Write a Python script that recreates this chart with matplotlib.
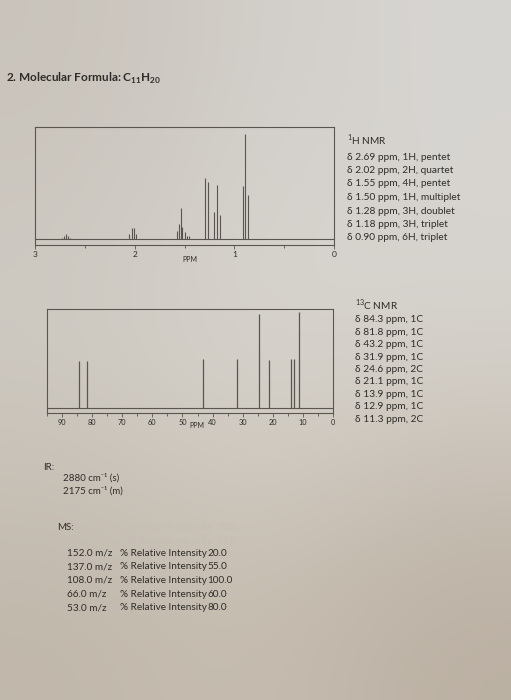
import numpy as np
import matplotlib.pyplot as plt
from matplotlib.ticker import MultipleLocator

plt.rcParams['font.family'] = ['Lato', 'DejaVu Sans']
plt.rcParams['mathtext.fontset'] = 'custom'
plt.rcParams['mathtext.rm'] = 'Lato'

# 1H NMR spectrum, individual lines (ppm, relative height)
h_line_ppm = [2.73, 2.71, 2.69, 2.67, 2.65,
              2.055, 2.03, 2.01, 1.985,
              1.575, 1.557, 1.54, 1.524, 1.50, 1.473, 1.45,
              1.296, 1.268,
              1.203, 1.178, 1.144,
              0.918, 0.897, 0.865]
h_line_int = [0.01, 0.025, 0.04, 0.025, 0.01,
              0.04, 0.095, 0.095, 0.04,
              0.07, 0.13, 0.28, 0.11, 0.06, 0.03, 0.03,
              0.54, 0.51,
              0.24, 0.48, 0.21,
              0.47, 0.94, 0.39]

# 1H NMR table
h_shift = [2.69, 2.02, 1.55, 1.50, 1.28, 1.18, 0.90]
h_count = [1, 2, 4, 1, 3, 3, 6]
h_mult = ['pentet', 'quartet', 'pentet', 'multiplet', 'doublet', 'triplet', 'triplet']

# 13C NMR
c_shift = [84.3, 81.8, 43.2, 31.9, 24.6, 21.1, 13.9, 12.9, 11.3]
c_count = [1, 1, 1, 1, 2, 1, 1, 1, 2]
c_height = [0.47, 0.47, 0.49, 0.50, 0.95, 0.48, 0.49, 0.49, 0.97]

# IR
ir_wavenumber = [2880, 2175]
ir_strength = ['s', 'm']

# MS
ms_mz = [152.0, 137.0, 108.0, 66.0, 53.0]
ms_intensity = [20.0, 55.0, 100.0, 60.0, 80.0]

W, H = 511, 700
ink = '#2f2c29'
line_col = '#5a5550'

fig = plt.figure(figsize=(W / 100, H / 100), dpi=100)

# paper background (photo shading)
bg = fig.add_axes([0, 0, 1, 1])
paper = np.array([
    [[201, 195, 187], [210, 206, 201], [215, 213, 210]],
    [[208, 204, 197], [219, 216, 210], [216, 212, 206]],
    [[192, 183, 170], [199, 190, 177], [186, 175, 161]],
]) / 255.0
bg.imshow(paper, extent=[0, W, H, 0], interpolation='bicubic', aspect='auto', zorder=0)
bg.set_xlim(0, W)
bg.set_ylim(H, 0)
bg.axis('off')


def px_axes(x0, y0, x1, y1):
    return fig.add_axes([x0 / W, 1 - y1 / H, (x1 - x0) / W, (y1 - y0) / H])


def style_spectrum(ax, lsize):
    ax.set_facecolor('none')
    for s in ax.spines.values():
        s.set_color(line_col)
        s.set_linewidth(0.8)
    ax.set_yticks([])
    ax.tick_params(axis='x', which='both', direction='out', colors=line_col,
                   labelcolor=ink, labelsize=lsize, pad=1.5, width=0.6)
    ax.tick_params(axis='x', which='major', length=3)
    ax.tick_params(axis='x', which='minor', length=2)
    ax.axhline(0, color=line_col, lw=0.8)


# 1H spectrum
ax1 = px_axes(35, 127, 334, 245)
style_spectrum(ax1, 6)
ax1.vlines(h_line_ppm, 0, h_line_int, color=line_col, lw=0.8)
ax1.set_xlim(3, 0)
ax1.set_ylim(-0.054, 1.0)
ax1.xaxis.set_major_locator(MultipleLocator(1))
ax1.xaxis.set_minor_locator(MultipleLocator(0.5))
ax1.set_xticklabels([f'{int(t)}' for t in ax1.get_xticks()])
bg.text(190, 260, 'PPM', fontsize=5, color=ink, ha='center', va='center')

# 13C spectrum
ax2 = px_axes(47, 309, 333, 413)
style_spectrum(ax2, 5.3)
ax2.vlines(c_shift, 0, c_height, color=line_col, lw=0.9)
ax2.set_xlim(95, 0)
ax2.set_ylim(-0.0505, 1.0)
ax2.xaxis.set_major_locator(MultipleLocator(10))
ax2.xaxis.set_minor_locator(MultipleLocator(5))
ax2.set_xticklabels([f'{int(t)}' for t in ax2.get_xticks()])
bg.text(197, 425, 'PPM', fontsize=5, color=ink, ha='center', va='center')

# title
bg.text(6, 78, r'2. Molecular Formula: C$_{\mathregular{11}}$H$_{\mathregular{20}}$',
        fontsize=8.5, fontweight='bold', color=ink, va='center')

# 1H table
bg.text(347, 140, r'$^{\mathregular{1}}$H NMR', fontsize=7.3, color=ink, va='center')
for i, (s, n, m) in enumerate(zip(h_shift, h_count, h_mult)):
    bg.text(347, 157 + i * 13.5, f'δ {s:.2f} ppm, {n}H, {m}',
            fontsize=7.3, color=ink, va='center')

# 13C table
bg.text(355, 305, r'$^{\mathregular{13}}$C NMR', fontsize=7.3, color=ink, va='center')
for i, (s, n) in enumerate(zip(c_shift, c_count)):
    bg.text(355, 320 + i * 12.4, f'δ {s:.1f} ppm, {n}C',
            fontsize=7.3, color=ink, va='center')

# IR
bg.text(43, 467, 'IR:', fontsize=7, color=ink, va='center')
for i, (w, st) in enumerate(zip(ir_wavenumber, ir_strength)):
    bg.text(63, 478 + i * 13, f'{w} cm⁻¹ ({st})',
            fontsize=7, color=ink, va='center')

# MS
bg.text(57, 528, 'MS:', fontsize=7, color=ink, va='center')
# show-through from the other side of the sheet
for i in range(2):
    bg.text(80, 528 + i * 13, f'{ms_mz[i]:.1f} m/z', fontsize=7, color='#c4beb5', va='center')
    bg.text(128, 528 + i * 13, f'% Relative Intensity  {ms_intensity[i]:.1f}',
            fontsize=7, color='#c4beb5', va='center')
for i, (mz, inten) in enumerate(zip(ms_mz, ms_intensity)):
    y = 553 + i * 13.7
    bg.text(67, y, f'{mz:.1f} m/z', fontsize=7.2, color=ink, va='center')
    bg.text(120, y, '% Relative Intensity', fontsize=7.2, color=ink, va='center')
    bg.text(207, y, f'{inten:.1f}', fontsize=7.2, color=ink, va='center')

fig.savefig('out.png', dpi=100)
